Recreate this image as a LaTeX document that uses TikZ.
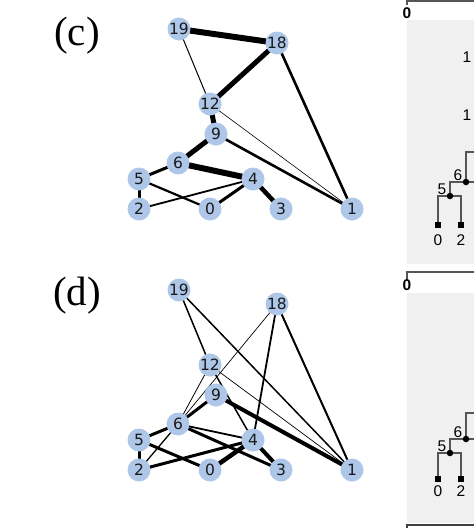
\documentclass[tikz,border=0pt]{standalone}
\usepackage{fontspec}
\setmainfont{Liberation Serif}
\newfontfamily\dejavu{DejaVu Sans}
\newfontfamily\lsans{Liberation Sans}
\usetikzlibrary{backgrounds}
\definecolor{nodeblue}{RGB}{174,199,232}
\definecolor{panelgray}{RGB}{240,240,240}
\definecolor{treegray}{RGB}{85,85,85}
\tikzset{
  gn/.style={circle, fill=nodeblue, minimum size=23pt, inner sep=0pt, font=\dejavu\fontsize{15.5}{15.5}\selectfont, text=black!90},
  panellabel/.style={font=\fontsize{41}{41}\selectfont, inner sep=0pt},
  treeline/.style={draw=treegray, line width=1.4pt},
  treedot/.style={circle, fill=black, minimum size=6.5pt, inner sep=0pt},
  treeleaf/.style={rectangle, fill=black, minimum size=6pt, inner sep=0pt},
  treelab/.style={font=\lsans\fontsize{15.5}{15.5}\selectfont, inner sep=0pt},
  axislab/.style={font=\lsans\bfseries\fontsize{15.5}{15.5}\selectfont, inner sep=0pt},
}
\newcommand{\mygraphnodes}[1]{%
  \foreach \n/\x/\y in {19/179/29, 18/277/43, 12/210/104, 9/216/134, 6/178/163, 5/139/179, 4/253/179, 2/139/209, 0/210/209, 3/281/209, 1/352/209}
    {\node[gn] (#1\n) at (\x,\y) {\n};}%
}
% tree: #1 prefix, #2 y of top link, #3 y of node 6, #4 y of node 5, #5 y of leaves, #6 y of leaf labels
\newcommand{\mytree}[6]{%
  \coordinate (#1p6) at (466,#3);
  \coordinate (#1p5) at (450,#4);
  \coordinate (#1p0) at (438,#5);
  \coordinate (#1p2) at (461,#5);
  \coordinate (#1top) at (480,#2);
  \coordinate (#1mid) at (480,#3);
  \draw[treeline] (#1p6) |- (#1top);
  \draw[treeline] (#1p5) |- (#1mid);
  \draw[treeline] (#1p0) |- (#1p5) -| (#1p2);
  \node[treedot] (#1d6) at (#1p6) {};
  \node[treedot] (#1d5) at (#1p5) {};
  \node[treeleaf] (#1l0) at (#1p0) {};
  \node[treeleaf] (#1l2) at (#1p2) {};
  \node[treelab] (#1t6) at (458,#3-7) {6};
  \node[treelab] (#1t5) at (442,#4-7) {5};
  \node[treelab] (#1t0) at (438,#6) {0};
  \node[treelab] (#1t2) at (461,#6) {2};
}
\begin{document}
\begin{tikzpicture}[x=1pt,y=-1pt]
\useasboundingbox (0,0) rectangle (474,528);
\begin{scope}
\clip (0,0) rectangle (474,528);
% ---------- right dendrogram panels ----------
\fill[panelgray] (407,20) rectangle (480,264);
\fill[panelgray] (407,293) rectangle (480,523);
\draw[treegray, line width=2pt] (407,1) -- (480,1);
\draw[treegray, line width=1.4pt] (407,0) -- (407,5);
\node[axislab] (c0ax) at (407,13) {0};
\draw[treegray, line width=1.4pt] (407,280) |- (480,272);
\node[axislab] (d0ax) at (407,285) {0};
\draw[black!75, line width=1.4pt, fill=white] (407,525) rectangle (480,540);

\node[treelab] (ct1) at (467,57) {1};
\node[treelab] (ct2) at (467,115) {1};
\mytree{c}{152}{182}{196}{225}{240}
\mytree{d}{413}{439}{453}{479}{491}
\end{scope}

% ---------- graph (c) ----------
\node[panellabel] (labc) at (77,36) {(c)};
\mygraphnodes{c}
\begin{scope}[on background layer]
\foreach \a/\b/\w in {19/18/6, 19/12/1, 18/12/5, 18/1/2.6, 12/9/5, 12/1/0.6, 9/6/5, 9/1/2.6, 6/5/3, 6/4/6, 5/0/2.2, 5/2/3, 2/4/1.8, 4/0/3, 4/3/4.5}
  {\draw[line width=\w pt] (c\a.center) -- (c\b.center);}
\end{scope}

% ---------- graph (d) ----------
\node[panellabel] (labd) at (77,296) {(d)};
\begin{scope}[yshift=-261pt]
\mygraphnodes{d}
\begin{scope}[on background layer]
\foreach \a/\b/\w in {19/12/1.5, 19/1/1.5, 18/6/0.7, 18/4/1.8, 18/1/2, 12/6/0.8, 12/4/1.5, 12/1/0.7, 9/6/3, 9/1/4, 6/5/3, 6/4/1.8, 6/3/3, 6/2/1.3, 5/2/3, 5/0/3, 2/4/3, 4/0/4.5, 4/3/4}
  {\draw[line width=\w pt] (d\a.center) -- (d\b.center);}
\end{scope}
\end{scope}
\end{tikzpicture}
\end{document}
